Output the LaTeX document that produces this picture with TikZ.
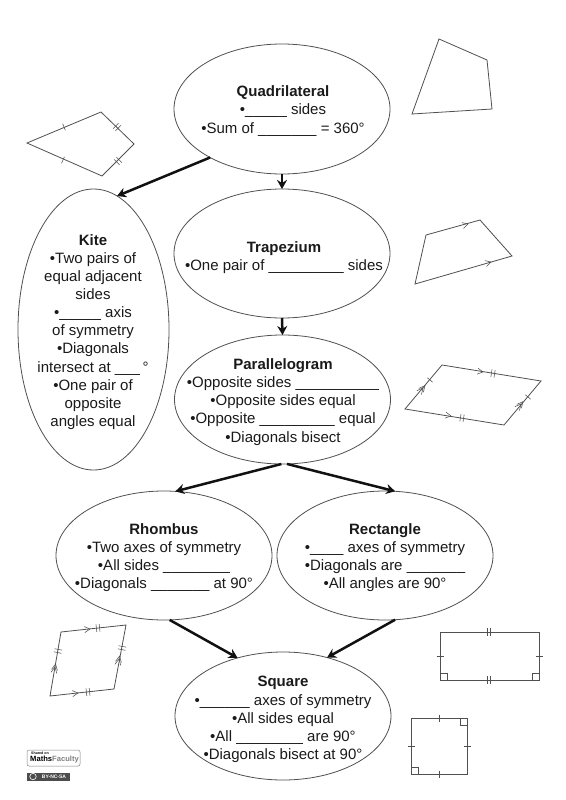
\documentclass[tikz,border=0pt]{standalone}
\usepackage{fontspec}
\setmainfont{Liberation Sans}
\usetikzlibrary{shapes.geometric,arrows.meta}
\definecolor{shape}{HTML}{505050}
\definecolor{edge}{HTML}{111111}
\definecolor{words}{HTML}{1A1A1A}
\tikzset{
  oval/.style={ellipse,draw=shape,line width=.8pt,inner sep=0pt,outer sep=0pt},
  words/.style={inner sep=0pt,align=center,text=words,font=\fontsize{15}{18.1}\selectfont},
  link/.style={draw=edge,line width=2.5pt,-{Stealth[length=9pt,width=10pt]}},
  fig/.style={draw=shape,line width=.8pt,line join=miter},
  tickline/.style={draw=shape,line width=.55pt}
}
\newcommand{\tickat}[3]{\begin{scope}[shift={(#1,#2)},rotate=#3]\draw[tickline] (0,-3.5)--(0,3.5);\end{scope}}
\newcommand{\dtickat}[3]{\begin{scope}[shift={(#1,#2)},rotate=#3]\draw[tickline] (-1.6,-3.8)--(-1.6,3.8) (1.6,-3.8)--(1.6,3.8);\end{scope}}
\newcommand{\chevat}[3]{\begin{scope}[shift={(#1,#2)},rotate=#3]\draw[tickline] (-5.5,-3)--(0,0)--(-5.5,3);\end{scope}}
\newcommand{\dchevat}[3]{\begin{scope}[shift={(#1,#2)},rotate=#3]\draw[tickline] (-6,-3)--(0,0)--(-6,3) (-3,-3)--(3,0)--(-3,3);\end{scope}}
\begin{document}
\begin{tikzpicture}[x=1pt,y=-1pt]
\useasboundingbox (0,0) rectangle (565,800);
\fill[white] (0,0) rectangle (565,800);
% ovals
\node[oval,minimum width=216pt,minimum height=130pt] (quad) at (282,109) {};
\node[oval,minimum width=216pt,minimum height=129pt] (trap) at (282,253.5) {};
\node[oval,minimum width=216pt,minimum height=129pt] (para) at (282.5,399.5) {};
\node[oval,minimum width=151pt,minimum height=281pt] (kite) at (93.5,329.5) {};
\node[oval,minimum width=216pt,minimum height=129pt] (rhom) at (164,555.5) {};
\node[oval,minimum width=216pt,minimum height=129pt] (rect) at (385,555.5) {};
\node[oval,minimum width=216pt,minimum height=128pt] (squa) at (283,716) {};
% texts
\node[words] (quadtext) at (283,111) {\textbf{Quadrilateral}\\•\_\_\_\_\_ sides\\•Sum of \_\_\_\_\_\_\_ = 360°};
\node[words] (traptext) at (284,257.5) {\textbf{Trapezium}\\•One pair of \_\_\_\_\_\_\_\_\_ sides};
\node[words] (paratext) at (283,402) {\textbf{Parallelogram}\\•Opposite sides \_\_\_\_\_\_\_\_\_\_\\•Opposite sides equal\\•Opposite \_\_\_\_\_\_\_\_\_ equal\\•Diagonals bisect};
\node[words] (kitetext) at (93,332) {\textbf{Kite}\\•Two pairs of\\equal adjacent\\sides\\•\_\_\_\_\_ axis\\of symmetry\\•Diagonals\\intersect at \_\_\_\,°\\•One pair of\\opposite\\angles equal};
\node[words] (rhomtext) at (164,557.5) {\textbf{Rhombus}\\•Two axes of symmetry\\•All sides \_\_\_\_\_\_\_\_\\•Diagonals \_\_\_\_\_\_\_ at 90°};
\node[words] (recttext) at (385,557.5) {\textbf{Rectangle}\\•\_\_\_\_ axes of symmetry\\•Diagonals are \_\_\_\_\_\_\_\\•All angles are 90°};
\node[words] (squatext) at (283,719.5) {\textbf{Square}\\•\_\_\_\_\_\_ axes of symmetry\\•All sides equal\\•All \_\_\_\_\_\_\_\_ are 90°\\•Diagonals bisect at 90°};
% connectors
\draw[link] (quad.214) -- (kite.80);
\draw[link] (quad.south) -- (trap.north);
\draw[link] (trap.south) -- (para.north);
\draw[link] (para.269) -- (rhom.80);
\draw[link] (para.274) -- (rect.81);
\draw[link] (rhom.275) -- (squa.128);
\draw[link] (rect.279) -- (squa.53);
% quadrilateral
\draw[fig] (439,39)--(487,60)--(492,109)--(412,114)--cycle;
% kite
\draw[fig] (27,143)--(101,112)--(134,144)--(102,176)--cycle;
\tickat{64}{127}{22}\tickat{63}{160}{-24}\dtickat{117}{127}{-44}\dtickat{118}{161}{45}
% trapezium
\draw[fig] (426,235)--(480,220)--(512,256)--(415,284)--cycle;
\chevat{468}{224}{16}\chevat{491}{262}{16}
% parallelogram
\draw[fig] (442,365)--(541,381)--(504,425)--(405,409)--cycle;
\chevat{483}{372}{-9}\dtickat{493}{373.5}{-9}\chevat{451}{416}{-9}\dtickat{462}{418}{-9}
\dchevat{423}{388}{50}\tickat{430}{380}{50}\dchevat{521}{404}{50}\tickat{528}{397}{50}
% rhombus
\draw[fig] (61,632)--(126,625)--(114,689)--(50,696)--cycle;
\chevat{90}{629}{6}\dtickat{98}{628}{6}\chevat{78}{693}{6}\dtickat{88}{692}{6}
\dchevat{55}{667}{79}\dtickat{58}{651}{79}\dchevat{119}{659}{79}\dtickat{122}{648}{79}
% rectangle
\draw[fig] (440,632) rectangle (539,680);
\dtickat{489}{632}{0}\dtickat{489}{680}{0}\tickat{440}{656}{90}\tickat{539}{656}{90}
\draw[tickline] (440,673)--(447,673)--(447,680) (539,673)--(532,673)--(532,680);
% square
\draw[fig] (411,718) rectangle (467,774);
\tickat{439}{718}{0}\tickat{439}{774}{0}\tickat{411}{746}{90}\tickat{467}{746}{90}
\draw[tickline] (467,725)--(460,725)--(460,718) (411,767)--(418,767)--(418,774);
% logo
\draw[draw=gray,rounded corners=2pt,line width=.5pt] (27,750) rectangle (80,766);
\node[inner sep=0pt,anchor=west,font=\fontsize{3.6}{4}\selectfont\bfseries,text=black] (lg1) at (31,753.5) {Shared on};
\node[inner sep=0pt,anchor=west,font=\fontsize{7.6}{8}\selectfont\bfseries,text=black] (lg2) at (30,759.5) {Maths\textcolor{gray}{Faculty}};
\fill[fill=black!70] (27,772.5) rectangle (70,780.5);
\node[inner sep=0pt,font=\fontsize{5}{6}\selectfont\bfseries,text=white] (lg3) at (54,776.5) {BY-NC-SA};
\draw[white,line width=.6pt] (33,776.5) circle (3.2);
\end{tikzpicture}
\end{document}
